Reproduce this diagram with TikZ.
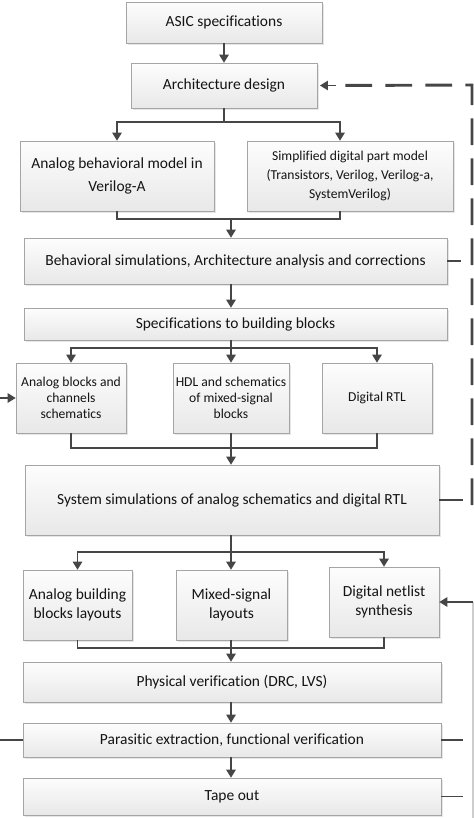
\documentclass[tikz,border=0pt]{standalone}
\usepackage{fontspec}
\setmainfont{Carlito}[Ligatures=NoCommon]
\usetikzlibrary{arrows.meta,shadows}
\definecolor{boxedge}{RGB}{165,165,165}
\definecolor{boxtop}{RGB}{253,253,253}
\definecolor{boxbottom}{RGB}{232,232,232}
\definecolor{linegrey}{RGB}{70,70,70}
\definecolor{textgrey}{RGB}{20,20,20}
\definecolor{edgegrey}{RGB}{205,205,205}

\tikzset{
  box/.style={draw=boxedge, top color=boxtop, bottom color=boxbottom, align=center,
    text=textgrey, inner sep=2pt, font=\fontsize{11.6}{14.3}\selectfont,
    drop shadow={opacity=0.2, shadow xshift=1.2pt, shadow yshift=-1.2pt}},
  smallbox/.style={box, font=\fontsize{10.2}{11.8}\selectfont},
  arr/.style={-{Triangle[width=7pt,length=6pt]}, line width=1.1pt, draw=linegrey},
  link/.style={line width=1.1pt, draw=linegrey},
  dashlink/.style={line width=2.2pt, draw=linegrey, dash pattern=on 20pt off 10pt},
}

\begin{document}
\begin{tikzpicture}[x=0.75pt, y=-0.75pt]
    \useasboundingbox (0,0) rectangle (474,818);

    % top of the flow
    \node[box, minimum width=147pt, minimum height=30.75pt] (asic) at (224,22.5) {ASIC specifications};
    \node[box, minimum width=139.5pt, minimum height=33.75pt] (arch) at (224,85.5) {Architecture design};

    % behavioral models
    \node[box, font=\fontsize{11.6}{17}\selectfont, minimum width=145.5pt, minimum height=52.5pt] (abm) at (117,176) {Analog behavioral model in\\Verilog-A};
    \node[smallbox, font=\fontsize{10.2}{14.3}\selectfont, minimum width=154.5pt, minimum height=52.5pt] (sdm) at (350,176) {Simplified digital part model\\(Transistors, Verilog, Verilog-a,\\SystemVerilog)};

    \node[box, minimum width=317.25pt, minimum height=34.5pt] (bsim) at (235.5,261) {Behavioral simulations, Architecture analysis and corrections};
    \node[box, minimum width=317.25pt, minimum height=24pt] (spec) at (235.5,324) {Specifications to building blocks};

    % building blocks
    \node[smallbox, minimum width=82.5pt, minimum height=52.5pt] (abcs) at (71,398) {Analog blocks and\\channels\\schematics};
    \node[smallbox, minimum width=82.5pt, minimum height=52.5pt] (hdl) at (231,398) {HDL and schematics\\of mixed-signal\\blocks};
    \node[smallbox, minimum width=82.5pt, minimum height=52.5pt] (rtl) at (377,398) {Digital RTL};

    \node[box, minimum width=310.5pt, minimum height=52.5pt] (ssim) at (232,500) {System simulations of analog schematics and digital RTL};

    % layouts
    \node[box, minimum width=81.75pt, minimum height=52.5pt] (abl) at (77.5,605) {Analog building\\blocks layouts};
    \node[box, minimum width=83.25pt, minimum height=52.5pt] (msl) at (231.5,605) {Mixed-signal\\layouts};
    \node[box, minimum width=82.5pt, minimum height=52.5pt] (dns) at (384,602) {Digital netlist\\synthesis};

    % verification and tape out
    \node[box, minimum width=313.5pt, minimum height=30pt] (phys) at (232,682) {Physical verification (DRC, LVS)};
    \node[box, minimum width=313.5pt, minimum height=25.5pt] (para) at (232,740) {Parasitic extraction, functional verification};
    \node[box, minimum width=313.5pt, minimum height=27.75pt] (tape) at (232,796.5) {Tape out};

    % split and merge points on the main axis
    \coordinate (split1) at (224,122);
    \coordinate (merge1) at (231,219);
    \coordinate (split2) at (231,348);
    \coordinate (merge2) at (231,448);
    \coordinate (split3) at (231,552);
    \coordinate (merge3) at (231,648);

    \draw[arr] (asic) -- (arch);
    \draw[link] (arch.south) -- (split1);
    \draw[arr] (split1) -| (abm.north);
    \draw[arr] (split1) -| ([xshift=-7.5pt]sdm.north);
    \draw[link] (abm.south) |- (merge1) -| ([xshift=-7.5pt]sdm.south);
    \draw[arr] (merge1) -- (merge1|-bsim.north);
    \draw[arr] (bsim.south-|merge1) -- (spec.north-|merge1);

    \draw[link] (spec.south-|split2) -- (split2);
    \draw[arr] (split2) -| (abcs.north);
    \draw[arr] (split2) -- (hdl.north);
    \draw[arr] (split2) -| (rtl.north);
    \draw[link] (abcs.south) |- (merge2) -| (rtl.south);
    \draw[link] (hdl.south) -- (merge2);
    \draw[arr] (merge2) -- (merge2|-ssim.north);

    \draw[link] (ssim.south-|split3) -- (split3);
    \draw[arr] (split3) -| (abl.north);
    \draw[arr] (split3) -- (split3|-msl.north);
    \draw[arr] (split3) -| (dns.north);
    \draw[link] (abl.south) |- (merge3) -| (dns.south);
    \draw[link] (msl.south-|merge3) -- (merge3);
    \draw[arr] (merge3) -- (merge3|-phys.north);
    \draw[arr] (phys.south-|merge3) -- (para.north-|merge3);
    \draw[arr] (para.south-|merge3) -- (tape.north-|merge3);

    % feedback loop back to the architecture
    \coordinate (fbtop) at (472,85);
    \coordinate (fbbot) at (472,505);
    \draw[dashlink] (fbbot) -- (fbtop) -- ([xshift=12pt]arch.east);
    \draw[arr] ([xshift=14pt]arch.east) -- ([xshift=2pt]arch.east);
    \coordinate (bsimout) at (461,261);
    \coordinate (ssimout) at (463,500);
    \draw[link] (bsim.east) -- (bsimout);
    \draw[link] (ssim.east) -- (ssimout);

    % side inputs and outputs
    \coordinate (leftin) at (0,398);
    \draw[arr] (leftin) -- (abcs.west);
    \coordinate (rightin) at (473,602);
    \coordinate (rightbot) at (473,818);
    \draw[line width=0.8pt, edgegrey] (rightbot) -- (rightin);
    \draw[arr] (rightin) -- (dns.east);
    \coordinate (paraleft) at (0,740);
    \coordinate (pararight) at (463,740);
    \coordinate (taperight) at (463,796.5);
    \draw[link] (paraleft) -- (para.west);
    \draw[link] (para.east) -- (pararight);
    \draw[link] (tape.east) -- (taperight);
\end{tikzpicture}
\end{document}
